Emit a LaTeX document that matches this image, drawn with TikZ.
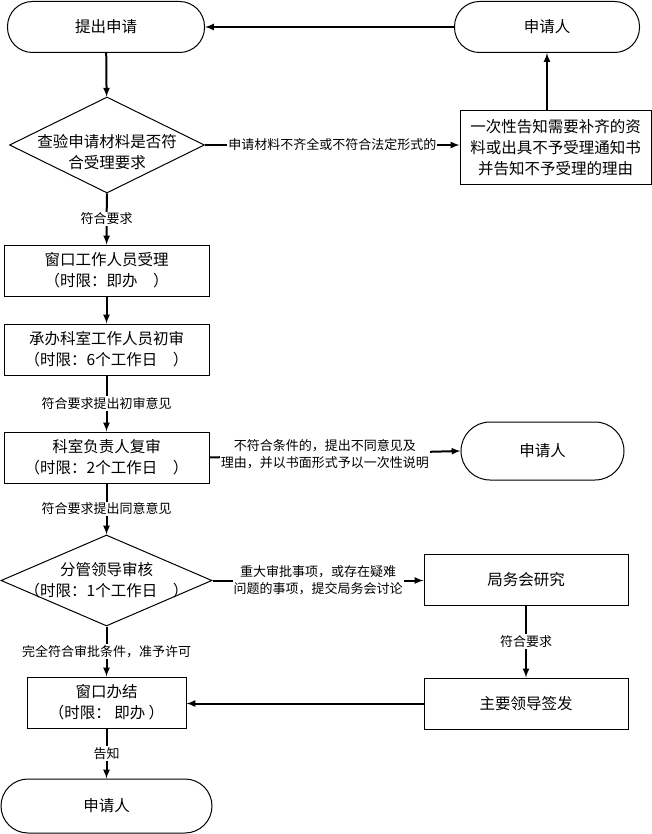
\documentclass[tikz,border=0pt]{standalone}
\usepackage{fontspec}
\setmainfont{Noto Sans CJK SC}
\usetikzlibrary{shapes.geometric}

\begin{document}
\begin{tikzpicture}[x=1pt,y=-1pt,>=latex,line width=1pt,
                    terminal/.style={rectangle,draw,rounded corners=25pt,minimum width=197pt,minimum height=51pt,font=\fontsize{15.5}{21}\selectfont},
                    proc node/.style={rectangle,draw,align=center,minimum height=51pt,minimum width=205pt,font=\fontsize{15.5}{21}\selectfont},
                    decision/.style={diamond,draw,inner sep=0pt,minimum width=195pt,minimum height=96pt},
                    decision text/.style={align=center,font=\fontsize{15.5}{21}\selectfont},
                    note/.style={fill=white,align=center,inner sep=1pt,font=\fontsize{13}{17}\selectfont},
                    flow/.style={->,line width=2pt}]
  \useasboundingbox (0,0) rectangle (652,834);

  \node[terminal] (apply) at (106,27) {提出申请};
  \node[terminal,minimum width=185pt] (app1) at (547,27) {申请人};
  \node[decision] (check) at (107,145) {};
  \node[decision text] (checkt) at (107,152) {查验申请材料是否符\\合受理要求};
  \node[proc node,minimum width=191pt,minimum height=74pt] (notice) at (555.5,148) {一次性告知需要补齐的资\\料或出具不予受理通知书\\并告知不予受理的理由};
  \node[proc node] (accept) at (106.5,270.5) {窗口工作人员受理\\（时限：即办　）};
  \node[proc node] (first) at (106.5,349.5) {承办科室工作人员初审\\（时限：6个工作日　）};
  \node[proc node] (second) at (106.5,457.5) {科室负责人复审\\（时限：2个工作日　）};
  \node[terminal,minimum width=163pt,minimum height=58pt,rounded corners=29pt] (app2) at (542.5,451) {申请人};
  \node[decision,minimum width=211pt,minimum height=91pt] (lead) at (106.5,580.5) {};
  \node[decision text] (leadt) at (106.5,580) {分管领导审核\\（时限：1个工作日　）};
  \node[proc node,minimum width=204pt] (bureau) at (526,579.5) {局务会研究};
  \node[proc node,minimum width=204pt] (sign) at (526,703.5) {主要领导签发};
  \node[proc node,minimum width=159pt] (finish) at (106.5,702.5) {窗口办结\\（时限： 即办 ）};
  \node[terminal,minimum width=211pt,minimum height=54pt,rounded corners=27pt] (app3) at (106.5,806) {申请人};

  % main line
  \draw[flow] (app1) -- (apply);
  \draw[flow] (apply) -- (check);
  \draw[flow] (check.east) -- node[note] {申请材料不齐全或不符合法定形式的} (check.east -| notice.west);
  \draw[flow] (app1.south |- notice.north) -- (app1.south);
  \draw[flow] (check) -- node[note] {符合要求} (accept);
  \draw[flow] (accept) -- (first);
  \draw[flow] (first) -- node[note] {符合要求提出初审意见} (second);
  \draw[flow] (second.east) -- node[note,pos=0.46] {不符合条件的，提出不同意见及\\理由，并以书面形式予以一次性说明} (app2.west);
  \draw[flow] (second) -- node[note] {符合要求提出同意意见} (lead);

  % lower part
  \draw[flow] (lead.east) -- node[note] {重大审批事项，或存在疑难\\问题的事项，提交局务会讨论} (lead.east -| bureau.west);
  \draw[flow] (lead) -- node[note] {完全符合审批条件，准予许可} (finish);
  \draw[flow] (bureau) -- node[note] {符合要求} (sign);
  \draw[flow] (sign.west) -- (sign.west -| finish.east);
  \draw[flow] (finish) -- node[note] {告知} (app3);
\end{tikzpicture}
\end{document}
